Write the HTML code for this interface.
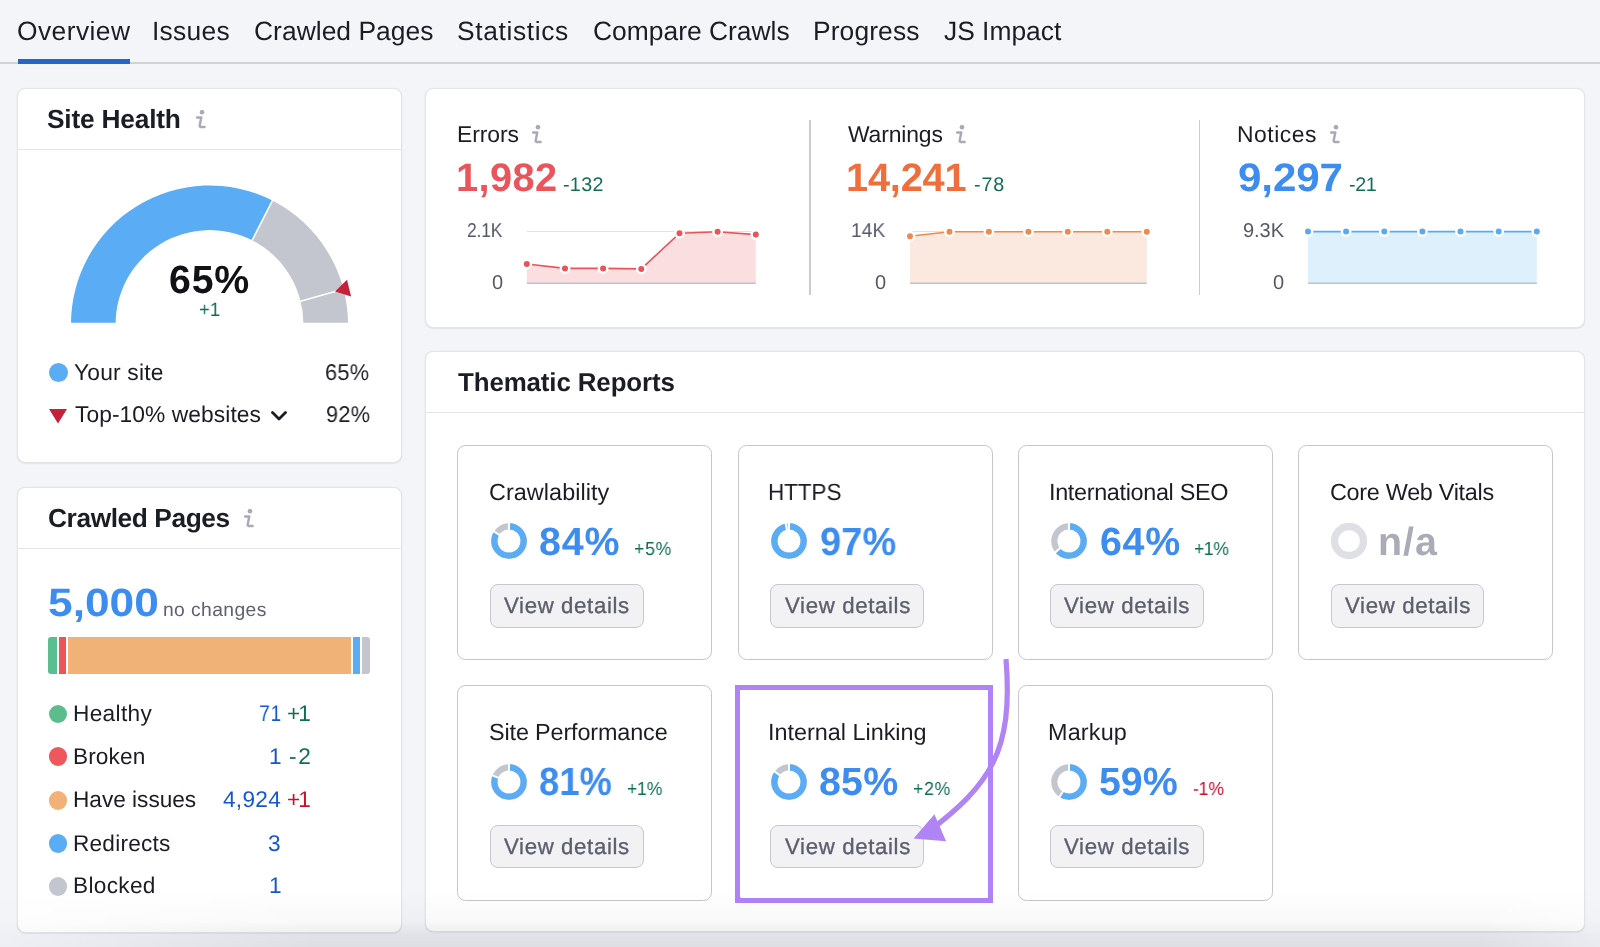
<!DOCTYPE html>
<html><head><meta charset="utf-8"><style>
html,body{margin:0;padding:0;width:1600px;height:947px;overflow:hidden;background:#f3f5f9;}
body{position:relative;font-family:"Liberation Sans",sans-serif;text-rendering:geometricPrecision;}
.t{position:absolute;white-space:nowrap;will-change:transform;}
.ic{position:absolute;}
.card{position:absolute;box-sizing:border-box;background:#fff;border:1px solid #e3e5ea;border-radius:8.5px;box-shadow:0 0 1.2px rgba(0,0,40,0.10), 0 1px 1.5px rgba(0,0,30,0.06);}
.tile{position:absolute;box-sizing:border-box;width:255.05px;height:215.8px;border:1.5px solid #c3c6ce;border-radius:8.5px;background:#fff;}
.btn{position:absolute;box-sizing:border-box;width:153.8px;height:43.2px;border:1.8px solid #c5c8cf;border-radius:8px;background:#f2f2f5;}
.dot{position:absolute;border-radius:50%;}
</style></head><body>
<div class="t" id="t0" style="left:16.96px;top:17.90px;font-size:26.4px;line-height:26.4px;color:#1b1d24;letter-spacing:0.430px;">Overview</div>
<div class="t" id="t1" style="left:152.17px;top:17.90px;font-size:26.4px;line-height:26.4px;color:#1b1d24;letter-spacing:0.280px;">Issues</div>
<div class="t" id="t2" style="left:254.22px;top:17.90px;font-size:26.4px;line-height:26.4px;color:#1b1d24;letter-spacing:0.041px;">Crawled Pages</div>
<div class="t" id="t3" style="left:456.63px;top:17.90px;font-size:26.4px;line-height:26.4px;color:#1b1d24;letter-spacing:0.629px;">Statistics</div>
<div class="t" id="t4" style="left:592.66px;top:17.90px;font-size:26.4px;line-height:26.4px;color:#1b1d24;letter-spacing:0.011px;">Compare Crawls</div>
<div class="t" id="t5" style="left:812.65px;top:17.90px;font-size:26.4px;line-height:26.4px;color:#1b1d24;letter-spacing:0.111px;">Progress</div>
<div class="t" id="t6" style="left:943.52px;top:17.90px;font-size:26.4px;line-height:26.4px;color:#1b1d24;letter-spacing:-0.013px;">JS Impact</div>
<div style="position:absolute;left:0;top:62.3px;width:1600px;height:1.6px;background:#d0d2d8"></div>
<div style="position:absolute;left:17.5px;top:59px;width:112.3px;height:4.7px;background:#2566c9"></div>
<div class="card" style="left:17px;top:88px;width:385.2px;height:375px"></div>
<div style="position:absolute;left:18px;top:148.75px;width:383.2px;height:1.5px;background:#e3e5ea"></div>
<div class="card" style="left:17px;top:487px;width:385.2px;height:446.29999999999995px"></div>
<div style="position:absolute;left:18px;top:547.95px;width:383.2px;height:1.5px;background:#e3e5ea"></div>
<div class="card" style="left:425.3px;top:87.7px;width:1159.5px;height:240.2px"></div>
<div class="card" style="left:425.3px;top:350.7px;width:1159.5px;height:581.5999999999999px"></div>
<div style="position:absolute;left:426.3px;top:411.65px;width:1157.5px;height:1.5px;background:#e3e5ea"></div>
<div class="t" id="t7" style="left:47.46px;top:105.85px;font-size:26.3px;line-height:26.3px;color:#1b1d24;font-weight:700;letter-spacing:-0.201px;">Site Health</div>
<svg class="ic" style="left:195.5px;top:109.5px" width="11" height="19" viewBox="0 0 11 19"><circle cx="6.0" cy="2.2" r="2.3" fill="#a8abb6"/><path d="M1.1 7.5 L5.3 7.4 L3.7 15.4 Q3.4 17 4.9 17 L8.6 17" fill="none" stroke="#a8abb6" stroke-width="2.4" stroke-linejoin="round" stroke-linecap="round"/></svg>
<svg style="position:absolute;left:0;top:0" width="420" height="470"><defs><clipPath id="gc"><rect x="0" y="0" width="420" height="322.7"/></clipPath></defs><g clip-path="url(#gc)"><path d="M71.00 324.00 A138.5 138.5 0 0 1 272.38 200.60 L252.13 240.33 A93.9 93.9 0 0 0 115.60 324.00 Z" fill="#5aacf5"/><path d="M272.38 200.60 A138.5 138.5 0 0 1 348.00 324.00 L303.40 324.00 A93.9 93.9 0 0 0 252.13 240.33 Z" fill="#c3c6ce"/><line x1="251.22" y1="242.12" x2="273.29" y2="198.81" stroke="#fff" stroke-width="1.6"/><line x1="299.5" y1="301.6" x2="336" y2="291.3" stroke="#fff" stroke-width="1.6"/></g><path d="M335.1 291.5 L347.0 279.7 L351.1 296.6 Z" fill="#c3223a"/></svg>
<div class="t" id="t8" style="left:168.98px;top:260.82px;font-size:39.3px;line-height:39.3px;color:#111216;font-weight:700;letter-spacing:0.803px;">65%</div>
<div class="t" id="t9" style="left:198.80px;top:300.74px;font-size:19.4px;line-height:19.4px;color:#0f6f55;letter-spacing:0.189px;transform:scaleX(0.95);transform-origin:0 50%;">+1</div>
<div class="dot" style="left:48.5px;top:363px;width:19px;height:19px;background:#5aacf5"></div>
<div class="t" id="t10" style="left:73.57px;top:361.20px;font-size:22.8px;line-height:22.8px;color:#1b1d24;letter-spacing:0.186px;">Your site</div>
<div class="t" id="t11" style="left:325.30px;top:361.20px;font-size:22.8px;line-height:22.8px;color:#1b1d24;letter-spacing:0.377px;transform:scaleX(0.95);transform-origin:0 50%;">65%</div>
<svg class="ic" style="left:48.9px;top:408.5px" width="18" height="15" viewBox="0 0 18 15"><path d="M0 0 L18 0 L9 14.6 Z" fill="#c3223a"/></svg>
<div class="t" id="t12" style="left:74.60px;top:402.80px;font-size:22.8px;line-height:22.8px;color:#1b1d24;letter-spacing:0.067px;">Top-10% websites</div>
<svg class="ic" style="left:271px;top:411px" width="16" height="10" viewBox="0 0 16 10"><path d="M1.5 1.5 L8 8 L14.5 1.5" fill="none" stroke="#1b1d24" stroke-width="2.8" stroke-linecap="round" stroke-linejoin="round"/></svg>
<div class="t" id="t13" style="left:325.53px;top:402.80px;font-size:22.8px;line-height:22.8px;color:#1b1d24;letter-spacing:0.271px;transform:scaleX(0.95);transform-origin:0 50%;">92%</div>
<div class="t" id="t14" style="left:47.80px;top:505.01px;font-size:26.3px;line-height:26.3px;color:#1b1d24;font-weight:700;letter-spacing:-0.406px;">Crawled Pages</div>
<svg class="ic" style="left:243.5px;top:509px" width="11" height="19" viewBox="0 0 11 19"><circle cx="6.0" cy="2.2" r="2.3" fill="#a8abb6"/><path d="M1.1 7.5 L5.3 7.4 L3.7 15.4 Q3.4 17 4.9 17 L8.6 17" fill="none" stroke="#a8abb6" stroke-width="2.4" stroke-linejoin="round" stroke-linecap="round"/></svg>
<div class="t" id="t15" style="left:47.75px;top:583.60px;font-size:39.5px;line-height:39.5px;color:#3d8df0;font-weight:700;letter-spacing:0.033px;transform:scaleX(1.12);transform-origin:0 50%;">5,000</div>
<div class="t" id="t16" style="left:163.17px;top:600.76px;font-size:19.3px;line-height:19.3px;color:#5d6170;letter-spacing:0.400px;">no changes</div>
<div style="position:absolute;left:48.4px;top:636.6px;width:321.6px;height:37.2px;border-radius:3px;overflow:hidden;background:#fff"><div style="position:absolute;left:0;top:0;width:8.5px;height:100%;background:#5bbe90"></div><div style="position:absolute;left:10.3px;top:0;width:7.5px;height:100%;background:#eb5559"></div><div style="position:absolute;left:19.5px;top:0;width:283.1px;height:100%;background:#f1b278"></div><div style="position:absolute;left:304.4px;top:0;width:7.4px;height:100%;background:#5aacf5"></div><div style="position:absolute;left:313.5px;top:0;width:8.3px;height:100%;background:#c3c6ce"></div></div>
<div class="dot" style="left:48.5px;top:704.5px;width:18.6px;height:18.6px;background:#5bbd8c"></div>
<div class="t" id="t17" style="left:72.98px;top:701.91px;font-size:22.65px;line-height:22.65px;color:#1b1d24;letter-spacing:0.331px;">Healthy</div>
<div class="t" id="t18" style="right:1318.07px;top:701.91px;font-size:22.65px;line-height:22.65px;color:#1458c9;letter-spacing:0.802px;transform:scaleX(0.84);transform-origin:100% 50%;">71</div>
<div class="t" id="t19" style="left:287.44px;top:701.91px;font-size:22.65px;line-height:22.65px;color:#0f6f55;letter-spacing:-2.050px;">+1</div>
<div class="dot" style="left:48.5px;top:747.4px;width:18.6px;height:18.6px;background:#ee575c"></div>
<div class="t" id="t20" style="left:72.98px;top:744.80px;font-size:22.65px;line-height:22.65px;color:#1b1d24;letter-spacing:0.100px;">Broken</div>
<div class="t" id="t21" style="right:1318.91px;top:744.80px;font-size:22.65px;line-height:22.65px;color:#1458c9;">1</div>
<div class="t" id="t22" style="left:289.32px;top:744.80px;font-size:22.65px;line-height:22.65px;color:#0f6f55;letter-spacing:1.696px;">-2</div>
<div class="dot" style="left:48.5px;top:791.0px;width:18.6px;height:18.6px;background:#f2b277"></div>
<div class="t" id="t23" style="left:72.98px;top:788.41px;font-size:22.65px;line-height:22.65px;color:#1b1d24;letter-spacing:-0.014px;">Have issues</div>
<div class="t" id="t24" style="right:1319.06px;top:788.41px;font-size:22.65px;line-height:22.65px;color:#1458c9;letter-spacing:0.274px;">4,924</div>
<div class="t" id="t25" style="left:287.44px;top:788.41px;font-size:22.65px;line-height:22.65px;color:#c8102e;letter-spacing:-2.074px;">+1</div>
<div class="dot" style="left:48.5px;top:834.2px;width:18.6px;height:18.6px;background:#5aacf5"></div>
<div class="t" id="t26" style="left:72.98px;top:831.60px;font-size:22.65px;line-height:22.65px;color:#1b1d24;letter-spacing:0.208px;">Redirects</div>
<div class="t" id="t27" style="right:1319.71px;top:831.60px;font-size:22.65px;line-height:22.65px;color:#1458c9;">3</div>
<div class="dot" style="left:48.5px;top:877.0px;width:18.6px;height:18.6px;background:#c3c6ce"></div>
<div class="t" id="t28" style="left:72.98px;top:874.41px;font-size:22.65px;line-height:22.65px;color:#1b1d24;letter-spacing:0.310px;">Blocked</div>
<div class="t" id="t29" style="right:1318.91px;top:874.41px;font-size:22.65px;line-height:22.65px;color:#1458c9;">1</div>
<div class="t" id="t30" style="left:456.53px;top:122.75px;font-size:22.9px;line-height:22.9px;color:#1b1d24;letter-spacing:-0.071px;">Errors</div>
<svg class="ic" style="left:531.5px;top:125px" width="11" height="19" viewBox="0 0 11 19"><circle cx="6.0" cy="2.2" r="2.3" fill="#a8abb6"/><path d="M1.1 7.5 L5.3 7.4 L3.7 15.4 Q3.4 17 4.9 17 L8.6 17" fill="none" stroke="#a8abb6" stroke-width="2.4" stroke-linejoin="round" stroke-linecap="round"/></svg>
<div class="t" id="t31" style="left:456.30px;top:158.60px;font-size:39.75px;line-height:39.75px;color:#e9555b;font-weight:700;letter-spacing:0.401px;">1,982</div>
<div class="t" id="t32" style="left:563.32px;top:175.61px;font-size:19.7px;line-height:19.7px;color:#0f6f55;letter-spacing:0.312px;">-132</div>
<div class="t" id="t33" style="left:466.56px;top:220.81px;font-size:20px;line-height:20px;color:#555966;letter-spacing:-0.108px;transform:scaleX(0.865);transform-origin:0 50%;">2.1K</div>
<div class="t" id="t34" style="right:1096.95px;top:272.81px;font-size:20px;line-height:20px;color:#555966;">0</div>
<div class="t" id="t35" style="left:848.06px;top:122.75px;font-size:22.9px;line-height:22.9px;color:#1b1d24;letter-spacing:-0.138px;">Warnings</div>
<svg class="ic" style="left:955.75px;top:125px" width="11" height="19" viewBox="0 0 11 19"><circle cx="6.0" cy="2.2" r="2.3" fill="#a8abb6"/><path d="M1.1 7.5 L5.3 7.4 L3.7 15.4 Q3.4 17 4.9 17 L8.6 17" fill="none" stroke="#a8abb6" stroke-width="2.4" stroke-linejoin="round" stroke-linecap="round"/></svg>
<div class="t" id="t36" style="left:845.56px;top:158.60px;font-size:39.75px;line-height:39.75px;color:#ee6f3c;font-weight:700;letter-spacing:-0.186px;">14,241</div>
<div class="t" id="t37" style="left:973.85px;top:175.61px;font-size:19.7px;line-height:19.7px;color:#0f6f55;letter-spacing:0.898px;">-78</div>
<div class="t" id="t38" style="left:850.92px;top:220.81px;font-size:20px;line-height:20px;color:#555966;letter-spacing:0.085px;transform:scaleX(0.955);transform-origin:0 50%;">14K</div>
<div class="t" id="t39" style="right:713.95px;top:272.81px;font-size:20px;line-height:20px;color:#555966;">0</div>
<div class="t" id="t40" style="left:1237.27px;top:122.75px;font-size:22.9px;line-height:22.9px;color:#1b1d24;letter-spacing:0.502px;">Notices</div>
<svg class="ic" style="left:1330.2px;top:125px" width="11" height="19" viewBox="0 0 11 19"><circle cx="6.0" cy="2.2" r="2.3" fill="#a8abb6"/><path d="M1.1 7.5 L5.3 7.4 L3.7 15.4 Q3.4 17 4.9 17 L8.6 17" fill="none" stroke="#a8abb6" stroke-width="2.4" stroke-linejoin="round" stroke-linecap="round"/></svg>
<div class="t" id="t41" style="left:1238.35px;top:158.60px;font-size:39.75px;line-height:39.75px;color:#3d8df0;font-weight:700;letter-spacing:-0.102px;transform:scaleX(1.06);transform-origin:0 50%;">9,297</div>
<div class="t" id="t42" style="left:1349.22px;top:175.61px;font-size:19.7px;line-height:19.7px;color:#0f6f55;letter-spacing:-0.393px;">-21</div>
<div class="t" id="t43" style="left:1242.83px;top:220.81px;font-size:20px;line-height:20px;color:#555966;letter-spacing:-0.030px;">9.3K</div>
<div class="t" id="t44" style="right:316.00px;top:272.81px;font-size:20px;line-height:20px;color:#555966;">0</div>
<div style="position:absolute;left:809.25px;top:119.8px;width:1.5px;height:175px;background:#c9ccd3"></div>
<div style="position:absolute;left:1198.75px;top:119.8px;width:1.5px;height:175px;background:#c9ccd3"></div>
<svg style="position:absolute;left:0;top:0;overflow:visible" width="1" height="1"><line x1="526.8" y1="231.5" x2="755.8" y2="231.5" stroke="#e0e2e8" stroke-width="1.2"/><polygon points="526.8,283.3 526.8,264.0 565.0,268.4 603.1,268.4 641.3,268.9 679.5,233.2 717.6,231.8 755.8,234.6 755.8,283.3" fill="#fbdfe0"/><line x1="526.8" y1="283.3" x2="755.8" y2="283.3" stroke="#bfc2cb" stroke-width="1.6"/><polyline points="526.8,264.0 565.0,268.4 603.1,268.4 641.3,268.9 679.5,233.2 717.6,231.8 755.8,234.6" fill="none" stroke="#e8545a" stroke-width="1.6"/><circle cx="526.8" cy="264.0" r="4.2" fill="#e8545a" stroke="#fff" stroke-width="2.4"/><circle cx="565.0" cy="268.4" r="4.2" fill="#e8545a" stroke="#fff" stroke-width="2.4"/><circle cx="603.1" cy="268.4" r="4.2" fill="#e8545a" stroke="#fff" stroke-width="2.4"/><circle cx="641.3" cy="268.9" r="4.2" fill="#e8545a" stroke="#fff" stroke-width="2.4"/><circle cx="679.5" cy="233.2" r="4.2" fill="#e8545a" stroke="#fff" stroke-width="2.4"/><circle cx="717.6" cy="231.8" r="4.2" fill="#e8545a" stroke="#fff" stroke-width="2.4"/><circle cx="755.8" cy="234.6" r="4.2" fill="#e8545a" stroke="#fff" stroke-width="2.4"/></svg>
<svg style="position:absolute;left:0;top:0;overflow:visible" width="1" height="1"><line x1="910" y1="231.5" x2="1146.75" y2="231.5" stroke="#e0e2e8" stroke-width="1.2"/><polygon points="910,283.3 910.0,236.2 949.5,231.8 988.9,231.8 1028.4,231.8 1067.8,231.8 1107.3,231.8 1146.8,231.8 1146.75,283.3" fill="#fbe9df"/><line x1="910" y1="283.3" x2="1146.75" y2="283.3" stroke="#bfc2cb" stroke-width="1.6"/><polyline points="910.0,236.2 949.5,231.8 988.9,231.8 1028.4,231.8 1067.8,231.8 1107.3,231.8 1146.8,231.8" fill="none" stroke="#ef8a4d" stroke-width="1.6"/><circle cx="910.0" cy="236.2" r="4.2" fill="#ef8a4d" stroke="#fff" stroke-width="2.4"/><circle cx="949.5" cy="231.8" r="4.2" fill="#ef8a4d" stroke="#fff" stroke-width="2.4"/><circle cx="988.9" cy="231.8" r="4.2" fill="#ef8a4d" stroke="#fff" stroke-width="2.4"/><circle cx="1028.4" cy="231.8" r="4.2" fill="#ef8a4d" stroke="#fff" stroke-width="2.4"/><circle cx="1067.8" cy="231.8" r="4.2" fill="#ef8a4d" stroke="#fff" stroke-width="2.4"/><circle cx="1107.3" cy="231.8" r="4.2" fill="#ef8a4d" stroke="#fff" stroke-width="2.4"/><circle cx="1146.8" cy="231.8" r="4.2" fill="#ef8a4d" stroke="#fff" stroke-width="2.4"/></svg>
<svg style="position:absolute;left:0;top:0;overflow:visible" width="1" height="1"><line x1="1308" y1="231.5" x2="1536.8" y2="231.5" stroke="#e0e2e8" stroke-width="1.2"/><polygon points="1308,283.3 1308.0,231.6 1346.1,231.6 1384.3,231.6 1422.4,231.6 1460.5,231.6 1498.7,231.6 1536.8,231.6 1536.8,283.3" fill="#dff0fd"/><line x1="1308" y1="283.3" x2="1536.8" y2="283.3" stroke="#bfc2cb" stroke-width="1.6"/><polyline points="1308.0,231.6 1346.1,231.6 1384.3,231.6 1422.4,231.6 1460.5,231.6 1498.7,231.6 1536.8,231.6" fill="none" stroke="#59aaf4" stroke-width="1.6"/><circle cx="1308.0" cy="231.6" r="4.2" fill="#59aaf4" stroke="#fff" stroke-width="2.4"/><circle cx="1346.1" cy="231.6" r="4.2" fill="#59aaf4" stroke="#fff" stroke-width="2.4"/><circle cx="1384.3" cy="231.6" r="4.2" fill="#59aaf4" stroke="#fff" stroke-width="2.4"/><circle cx="1422.4" cy="231.6" r="4.2" fill="#59aaf4" stroke="#fff" stroke-width="2.4"/><circle cx="1460.5" cy="231.6" r="4.2" fill="#59aaf4" stroke="#fff" stroke-width="2.4"/><circle cx="1498.7" cy="231.6" r="4.2" fill="#59aaf4" stroke="#fff" stroke-width="2.4"/><circle cx="1536.8" cy="231.6" r="4.2" fill="#59aaf4" stroke="#fff" stroke-width="2.4"/></svg>
<div class="t" id="t45" style="left:457.55px;top:370.96px;font-size:25.9px;line-height:25.9px;color:#1b1d24;font-weight:700;letter-spacing:-0.119px;">Thematic Reports</div>
<div class="tile" style="left:457.35px;top:444.55px"></div>
<div class="t" id="t46" style="left:488.59px;top:480.91px;font-size:23.4px;line-height:23.4px;color:#1b1d24;letter-spacing:0.060px;">Crawlability</div>
<svg class="ic" style="left:488.50px;top:521.30px" width="40" height="40" viewBox="0 0 40 40"><circle cx="20" cy="20" r="14.65" fill="none" stroke="#c3c6ce" stroke-width="6.2"/><circle cx="20" cy="20" r="14.65" fill="none" stroke="#5aacf5" stroke-width="6.2" stroke-dasharray="77.32 92.05" transform="rotate(-90 20 20)"/><line x1="20.00" y1="9.35" x2="20.00" y2="1.35" stroke="#fff" stroke-width="2"/><line x1="11.01" y1="14.29" x2="4.25" y2="10.01" stroke="#fff" stroke-width="2"/></svg>
<div class="t" id="t47" style="left:538.80px;top:522.57px;font-size:39.4px;line-height:39.4px;color:#3d8df0;font-weight:700;letter-spacing:0.787px;">84%</div>
<div class="t" id="t48" style="left:634.19px;top:540.57px;font-size:18.9px;line-height:18.9px;color:#0f6f55;letter-spacing:0.850px;transform:scaleX(0.93);transform-origin:0 50%;">+5%</div>
<div class="btn" style="left:489.90px;top:584.40px"></div>
<div class="t" id="t49" style="left:504.21px;top:595.21px;font-size:22.2px;line-height:22.2px;color:#5b5f6d;letter-spacing:0.653px;-webkit-text-stroke:0.35px #5b5f6d;">View details</div>
<div class="tile" style="left:737.58px;top:444.55px"></div>
<div class="t" id="t50" style="left:768.02px;top:480.91px;font-size:23.4px;line-height:23.4px;color:#1b1d24;letter-spacing:-0.037px;transform:scaleX(0.96);transform-origin:0 50%;">HTTPS</div>
<svg class="ic" style="left:768.73px;top:521.30px" width="40" height="40" viewBox="0 0 40 40"><circle cx="20" cy="20" r="14.65" fill="none" stroke="#c3c6ce" stroke-width="6.2"/><circle cx="20" cy="20" r="14.65" fill="none" stroke="#5aacf5" stroke-width="6.2" stroke-dasharray="89.29 92.05" transform="rotate(-90 20 20)"/><line x1="20.00" y1="9.35" x2="20.00" y2="1.35" stroke="#fff" stroke-width="2"/><line x1="18.00" y1="9.54" x2="16.51" y2="1.68" stroke="#fff" stroke-width="2"/></svg>
<div class="t" id="t51" style="left:819.53px;top:522.57px;font-size:39.4px;line-height:39.4px;color:#3d8df0;font-weight:700;letter-spacing:0.065px;transform:scaleX(0.965);transform-origin:0 50%;">97%</div>
<div class="btn" style="left:770.13px;top:584.40px"></div>
<div class="t" id="t52" style="left:784.80px;top:595.21px;font-size:22.2px;line-height:22.2px;color:#5b5f6d;letter-spacing:0.661px;-webkit-text-stroke:0.35px #5b5f6d;">View details</div>
<div class="tile" style="left:1017.81px;top:444.55px"></div>
<div class="t" id="t53" style="left:1048.65px;top:480.91px;font-size:23.4px;line-height:23.4px;color:#1b1d24;letter-spacing:-0.328px;">International SEO</div>
<svg class="ic" style="left:1048.96px;top:521.30px" width="40" height="40" viewBox="0 0 40 40"><circle cx="20" cy="20" r="14.65" fill="none" stroke="#c3c6ce" stroke-width="6.2"/><circle cx="20" cy="20" r="14.65" fill="none" stroke="#5aacf5" stroke-width="6.2" stroke-dasharray="58.91 92.05" transform="rotate(-90 20 20)"/><line x1="20.00" y1="9.35" x2="20.00" y2="1.35" stroke="#fff" stroke-width="2"/><line x1="11.79" y1="26.79" x2="5.63" y2="31.89" stroke="#fff" stroke-width="2"/></svg>
<div class="t" id="t54" style="left:1099.50px;top:522.57px;font-size:39.4px;line-height:39.4px;color:#3d8df0;font-weight:700;letter-spacing:0.661px;">64%</div>
<div class="t" id="t55" style="left:1194.39px;top:540.57px;font-size:18.9px;line-height:18.9px;color:#0f6f55;letter-spacing:-0.425px;transform:scaleX(0.93);transform-origin:0 50%;">+1%</div>
<div class="btn" style="left:1050.36px;top:584.40px"></div>
<div class="t" id="t56" style="left:1064.26px;top:595.21px;font-size:22.2px;line-height:22.2px;color:#5b5f6d;letter-spacing:0.666px;-webkit-text-stroke:0.35px #5b5f6d;">View details</div>
<div class="tile" style="left:1298.04px;top:444.55px"></div>
<div class="t" id="t57" style="left:1329.77px;top:480.91px;font-size:23.4px;line-height:23.4px;color:#1b1d24;letter-spacing:-0.285px;">Core Web Vitals</div>
<svg class="ic" style="left:1329.19px;top:521.30px" width="40" height="40" viewBox="0 0 40 40"><circle cx="20" cy="20" r="14.5" fill="none" stroke="#dfe0e6" stroke-width="7.4"/></svg>
<div class="t" id="t58" style="left:1377.71px;top:522.57px;font-size:39.4px;line-height:39.4px;color:#a9acb7;font-weight:700;letter-spacing:0.947px;">n/a</div>
<div class="btn" style="left:1330.59px;top:584.40px"></div>
<div class="t" id="t59" style="left:1345.04px;top:595.21px;font-size:22.2px;line-height:22.2px;color:#5b5f6d;letter-spacing:0.664px;-webkit-text-stroke:0.35px #5b5f6d;">View details</div>
<div class="tile" style="left:457.35px;top:685.25px"></div>
<div class="t" id="t60" style="left:488.65px;top:721.20px;font-size:23.4px;line-height:23.4px;color:#1b1d24;letter-spacing:-0.137px;">Site Performance</div>
<svg class="ic" style="left:488.50px;top:761.80px" width="40" height="40" viewBox="0 0 40 40"><circle cx="20" cy="20" r="14.65" fill="none" stroke="#c3c6ce" stroke-width="6.2"/><circle cx="20" cy="20" r="14.65" fill="none" stroke="#5aacf5" stroke-width="6.2" stroke-dasharray="74.56 92.05" transform="rotate(-90 20 20)"/><line x1="20.00" y1="9.35" x2="20.00" y2="1.35" stroke="#fff" stroke-width="2"/><line x1="10.10" y1="16.08" x2="2.66" y2="13.13" stroke="#fff" stroke-width="2"/></svg>
<div class="t" id="t61" style="left:539.02px;top:762.86px;font-size:39.4px;line-height:39.4px;color:#3d8df0;font-weight:700;letter-spacing:-0.019px;transform:scaleX(0.925);transform-origin:0 50%;">81%</div>
<div class="t" id="t62" style="left:626.79px;top:780.87px;font-size:18.9px;line-height:18.9px;color:#0f6f55;letter-spacing:-0.185px;transform:scaleX(0.93);transform-origin:0 50%;">+1%</div>
<div class="btn" style="left:489.90px;top:825.00px"></div>
<div class="t" id="t63" style="left:504.21px;top:835.50px;font-size:22.2px;line-height:22.2px;color:#5b5f6d;letter-spacing:0.653px;-webkit-text-stroke:0.35px #5b5f6d;">View details</div>
<div class="tile" style="left:737.58px;top:685.25px"></div>
<div class="t" id="t64" style="left:767.59px;top:721.20px;font-size:23.4px;line-height:23.4px;color:#1b1d24;letter-spacing:-0.005px;">Internal Linking</div>
<svg class="ic" style="left:768.73px;top:761.80px" width="40" height="40" viewBox="0 0 40 40"><circle cx="20" cy="20" r="14.65" fill="none" stroke="#c3c6ce" stroke-width="6.2"/><circle cx="20" cy="20" r="14.65" fill="none" stroke="#5aacf5" stroke-width="6.2" stroke-dasharray="78.24 92.05" transform="rotate(-90 20 20)"/><line x1="20.00" y1="9.35" x2="20.00" y2="1.35" stroke="#fff" stroke-width="2"/><line x1="11.38" y1="13.74" x2="4.91" y2="9.04" stroke="#fff" stroke-width="2"/></svg>
<div class="t" id="t65" style="left:819.32px;top:762.86px;font-size:39.4px;line-height:39.4px;color:#3d8df0;font-weight:700;letter-spacing:0.214px;">85%</div>
<div class="t" id="t66" style="left:912.89px;top:780.87px;font-size:18.9px;line-height:18.9px;color:#0f6f55;letter-spacing:0.862px;transform:scaleX(0.93);transform-origin:0 50%;">+2%</div>
<div class="btn" style="left:770.13px;top:825.00px"></div>
<div class="t" id="t67" style="left:784.80px;top:835.50px;font-size:22.2px;line-height:22.2px;color:#5b5f6d;letter-spacing:0.661px;-webkit-text-stroke:0.35px #5b5f6d;">View details</div>
<div class="tile" style="left:1017.81px;top:685.25px"></div>
<div class="t" id="t68" style="left:1048.04px;top:721.20px;font-size:23.4px;line-height:23.4px;color:#1b1d24;letter-spacing:0.170px;">Markup</div>
<svg class="ic" style="left:1048.96px;top:761.80px" width="40" height="40" viewBox="0 0 40 40"><circle cx="20" cy="20" r="14.65" fill="none" stroke="#c3c6ce" stroke-width="6.2"/><circle cx="20" cy="20" r="14.65" fill="none" stroke="#5aacf5" stroke-width="6.2" stroke-dasharray="54.31 92.05" transform="rotate(-90 20 20)"/><line x1="20.00" y1="9.35" x2="20.00" y2="1.35" stroke="#fff" stroke-width="2"/><line x1="14.29" y1="28.99" x2="10.01" y2="35.75" stroke="#fff" stroke-width="2"/></svg>
<div class="t" id="t69" style="left:1099.11px;top:762.86px;font-size:39.4px;line-height:39.4px;color:#3d8df0;font-weight:700;letter-spacing:-0.050px;">59%</div>
<div class="t" id="t70" style="left:1193.11px;top:780.87px;font-size:18.9px;line-height:18.9px;color:#c8102e;letter-spacing:-0.191px;transform:scaleX(0.93);transform-origin:0 50%;">-1%</div>
<div class="btn" style="left:1050.36px;top:825.00px"></div>
<div class="t" id="t71" style="left:1064.26px;top:835.50px;font-size:22.2px;line-height:22.2px;color:#5b5f6d;letter-spacing:0.666px;-webkit-text-stroke:0.35px #5b5f6d;">View details</div>
<div style="position:absolute;left:734.5px;top:684.7px;width:258.65px;height:218.2px;box-sizing:border-box;border:5.95px solid #b084f5"></div>
<svg style="position:absolute;left:0;top:0;overflow:visible" width="1" height="1"><path d="M1006 659 C1013.5 752.2 989.9 784.6 928 832" fill="none" stroke="#b084f5" stroke-width="5.2"/><path d="M913.6 838.5 L934.4 814.2 L946.1 841.2 Z" fill="#b084f5"/></svg>
<div style="position:absolute;left:0;top:890px;width:1600px;height:57px;background:linear-gradient(to bottom, rgba(0,0,30,0) 0%, rgba(0,0,30,0.025) 55%, rgba(0,0,30,0.075) 80%, rgba(0,0,30,0.085) 100%);-webkit-mask-image:linear-gradient(to right, rgba(0,0,0,0.25) 0px, rgba(0,0,0,1) 320px, rgba(0,0,0,1) 1480px, rgba(0,0,0,0.45) 1600px);mask-image:linear-gradient(to right, rgba(0,0,0,0.25) 0px, rgba(0,0,0,1) 320px, rgba(0,0,0,1) 1480px, rgba(0,0,0,0.45) 1600px)"></div>
</body></html>
